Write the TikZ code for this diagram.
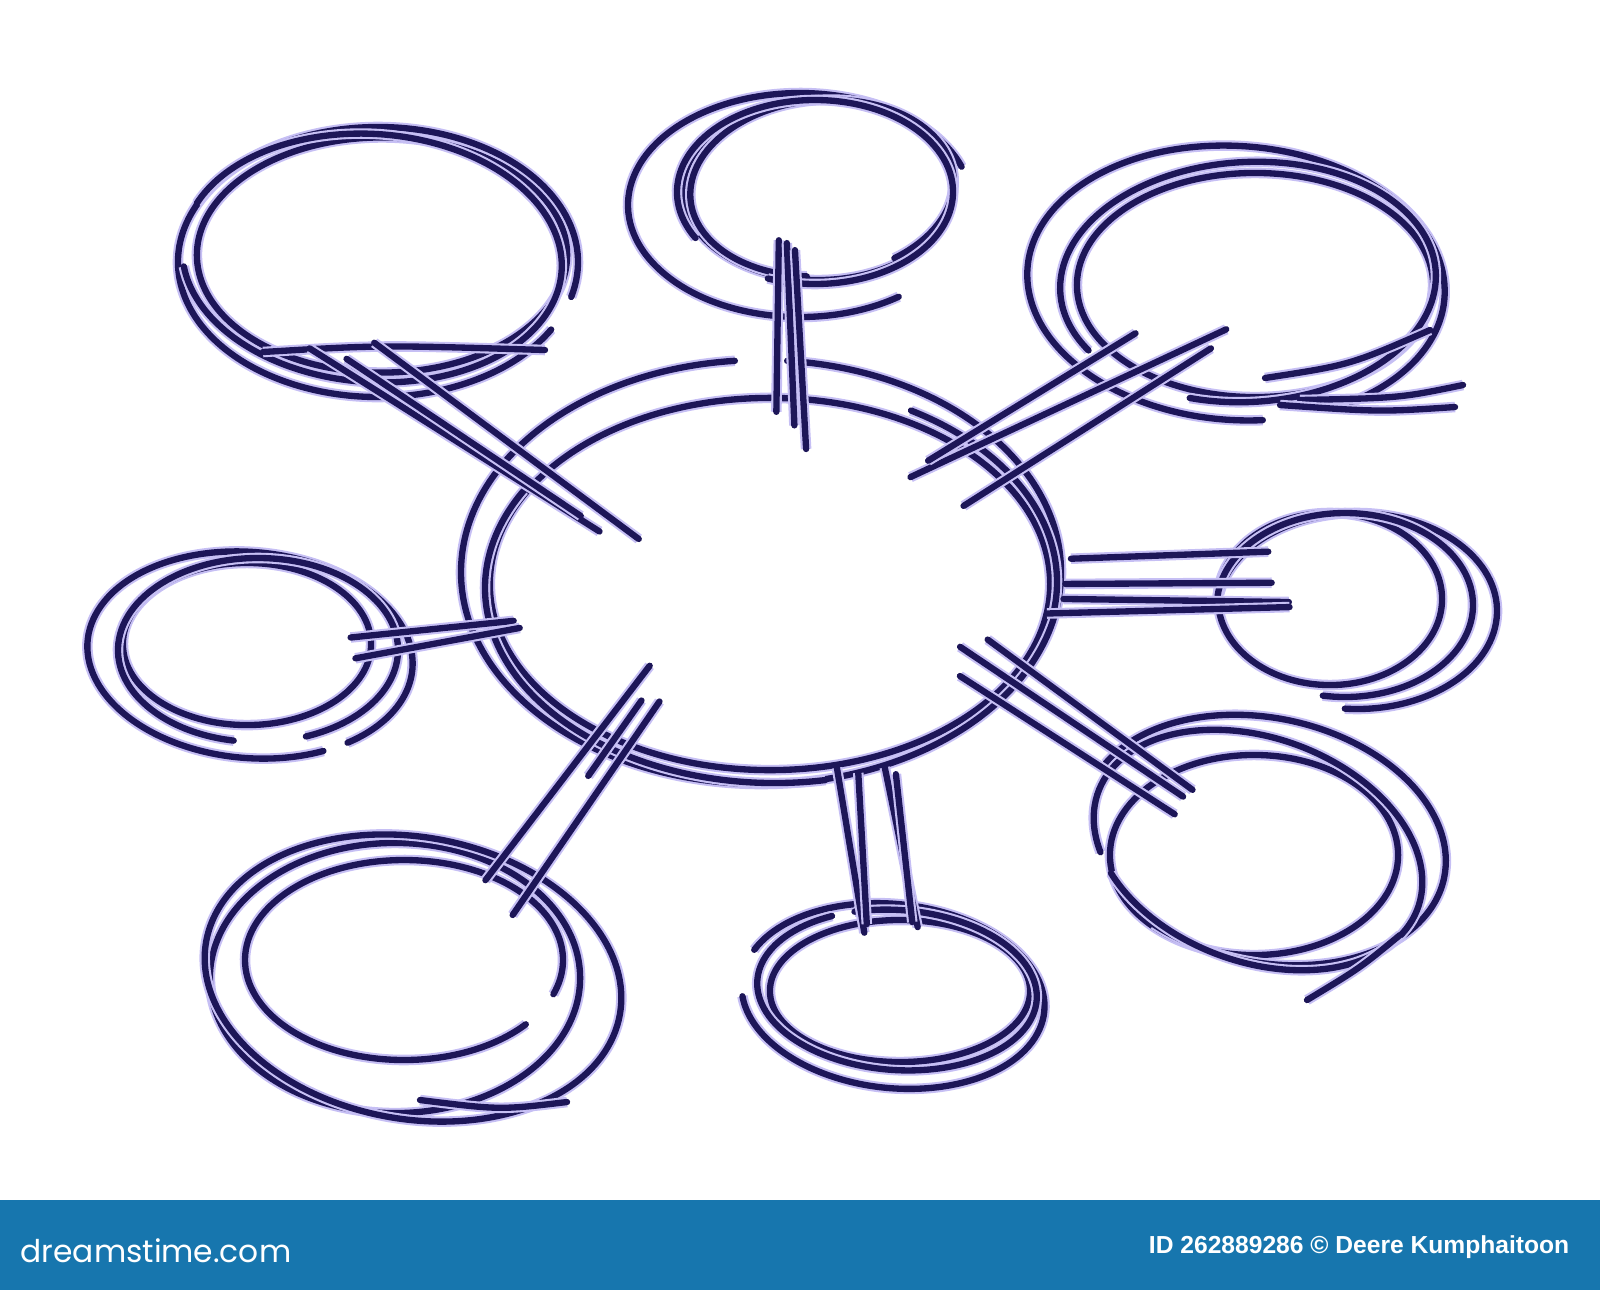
\documentclass[tikz,border=0pt]{standalone}
\usepackage{fontspec}
\newfontfamily\logofont{Poppins}
\newfontfamily\idfont{Liberation Sans}
\usetikzlibrary{shapes.geometric}

\definecolor{ink}{HTML}{1D1658}
\definecolor{glow}{HTML}{C6BFF4}
\definecolor{bar}{HTML}{1776AE}

% one extra hand-drawn round of a bubble: cx, cy, rx, ry, start, end, tilt
\newcommand{\loopstroke}[7]{%
  \draw[pen,rotate around={#7:(#1,#2)}] (#1,#2) ++(#5:#3 and #4)
    arc[start angle=#5,end angle=#6,x radius=#3,y radius=#4];}

\begin{document}
\begin{tikzpicture}[x=0.01cm,y=-0.01cm,
    pen/.style={draw=ink,line width=1.8pt,line cap=round,
                preaction={draw=glow,line width=3pt}},
    blob/.style={ellipse,pen,inner sep=0pt}]
\useasboundingbox (0,0) rectangle (1600,1290);

  \node[blob,minimum width=5.6cm,minimum height=3.72cm] (hub) at (770,584) {};
  \node[blob,minimum width=3.7cm,minimum height=2.35cm] (nw) at (382,255) {};
  \node[blob,minimum width=2.7cm,minimum height=1.8cm] (n) at (818,190) {};
  \node[blob,minimum width=3.56cm,minimum height=2.24cm] (ne) at (1255,285) {};
  \node[blob,minimum width=2.24cm,minimum height=1.72cm] (e) at (1330,599) {};
  \node[blob,minimum width=2.88cm,minimum height=2.0cm] (se) at (1254,855) {};
  \node[blob,minimum width=2.6cm,minimum height=1.42cm] (s) at (900,991) {};
  \node[blob,minimum width=3.7cm,minimum height=2.7cm] (sw) at (395,978) {};
  \node[blob,minimum width=2.48cm,minimum height=1.62cm] (w) at (247,644) {};

  % extra rounds
  \loopstroke{761}{572}{300}{212}{275}{625}{0}
  \loopstroke{775}{588}{290}{195}{80}{210}{0}
  \loopstroke{765}{582}{292}{198}{300}{370}{0}
  \loopstroke{378}{262}{200}{135}{30}{375}{0}
  \loopstroke{372}{258}{190}{124}{-160}{170}{-4}
  \draw[pen] (263,352) .. controls (380,345) .. (545,350);
  \loopstroke{800}{205}{172}{112}{55}{340}{0}
  \loopstroke{822}{188}{132}{88}{100}{420}{5}
  \loopstroke{815}{192}{138}{92}{150}{470}{0}
  \loopstroke{1236}{283}{209}{137}{80}{420}{-4}
  \loopstroke{1248}{282}{188}{120}{150}{470}{3}
  \draw[pen] (1265,378) .. controls (1350,365) .. (1430,330);
  \draw[pen] (1300,400) .. controls (1400,398) .. (1463,385);
  \draw[pen] (1280,405) .. controls (1380,412) .. (1455,407);
  \loopstroke{1357}{611}{140}{98}{190}{455}{0}
  \loopstroke{1345}{605}{128}{92}{180}{460}{0}
  \loopstroke{1265}{840}{183}{122}{200}{480}{-12}
  \loopstroke{1258}{850}{170}{112}{150}{500}{-20}
  \draw[pen] (1400,935) .. controls (1360,968) .. (1307,1000);
  \loopstroke{893}{996}{152}{92}{200}{530}{-6}
  \loopstroke{897}{990}{140}{80}{250}{600}{-4}
  \loopstroke{413}{978}{210}{141}{280}{640}{-10}
  \loopstroke{404}{960}{159}{100}{40}{380}{0}
  \draw[pen] (420,1100) .. controls (500,1110) .. (567,1102);
  \loopstroke{250}{655}{163}{103}{60}{410}{-5}
  \loopstroke{258}{650}{140}{92}{100}{430}{0}

  % connectors
  \draw[pen,shorten <=-0.23cm,shorten >=-0.21cm] (w.4) -- (hub.188);
  \draw[pen,shorten <=-0.18cm,shorten >=-0.24cm] (w.355) -- (hub.190);
  \draw[pen,shorten <=-0.48cm,shorten >=-0.85cm] (nw.255) -- (hub.158);
  \draw[pen,shorten <=-0.52cm,shorten >=-1.17cm] (nw.286) -- (hub.153);
  \draw[pen,shorten <=-0.3cm,shorten >=-0.6cm] (nw.265) -- (hub.157);
  \draw[pen,shorten <=-0.39cm,shorten >=-0.17cm] (n.246) -- (hub.88);
  \draw[pen,shorten <=-0.38cm,shorten >=-0.3cm] (n.252) -- (hub.83);
  \draw[pen,shorten <=-0.32cm,shorten >=-0.53cm] (n.257) -- (hub.80);
  \draw[pen,shorten <=-1.0cm,shorten >=-0.65cm] (ne.216) -- (hub.34);
  \draw[pen,shorten <=-0.63cm,shorten >=-0.5cm] (ne.225) -- (hub.24);
  \draw[pen,shorten <=-0.34cm,shorten >=-0.35cm] (ne.204) -- (hub.37);
  \draw[pen,shorten <=0.2cm,shorten >=-0.37cm] (hub.5) -- (e.155);
  \draw[pen,shorten <=0.12cm,shorten >=-0.55cm] (hub.0) -- (e.172);
  \draw[pen,shorten <=0.11cm,shorten >=-0.74cm] (hub.357) -- (e.181);
  \draw[pen,shorten <=-0.03cm,shorten >=-0.74cm] (hub.354) -- (e.185);
  \draw[pen,shorten <=-0.46cm,shorten >=-0.31cm] (hub.342) -- (se.136);
  \draw[pen,shorten <=-0.63cm,shorten >=-0.33cm] (hub.338) -- (se.142);
  \draw[pen,shorten <=-0.42cm,shorten >=-0.43cm] (hub.333) -- (se.151);
  \draw[pen,shorten >=-0.13cm] (hub.290) -- (s.118);
  \draw[pen,shorten <=0.09cm,shorten >=-0.05cm] (hub.296) -- (s.115);
  \draw[pen,shorten <=0.1cm,shorten >=-0.1cm] (hub.303) -- (s.78);
  \draw[pen,shorten <=0.2cm,shorten >=-0.05cm] (hub.306) -- (s.81);
  \draw[pen,shorten <=-0.86cm,shorten >=-0.22cm] (hub.221) -- (sw.48);
  \draw[pen,shorten <=-0.56cm,shorten >=-0.37cm] (hub.229) -- (sw.34);
  \draw[pen,shorten <=-0.5cm,shorten >=1.2cm] (hub.225) -- (sw.40);

  % footer
  \fill[bar] (0,1200) rectangle (1600,1290);
  \node[anchor=base west,text=white,inner sep=0pt,
        font=\logofont\fontsize{8.9}{10}\selectfont] (logo) at (20,1262) {dreamstime.com};
  \node[anchor=base east,text=white,inner sep=0pt,
        font=\idfont\bfseries\fontsize{7}{8}\selectfont] (credit) at (1570,1253)
        {ID 262889286 © Deere Kumphaitoon};
\end{tikzpicture}
\end{document}
